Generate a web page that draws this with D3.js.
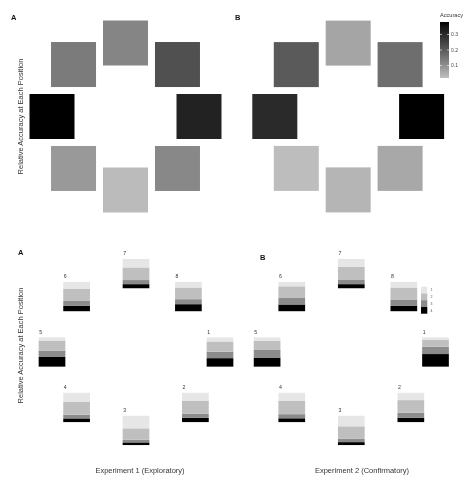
<!DOCTYPE html>
<html><head><meta charset="utf-8">
<script src="https://cdn.jsdelivr.net/npm/d3@7"></script>
<style>body{margin:0;background:#fff}svg{display:block;font-family:"Liberation Sans",Arial,sans-serif;will-change:transform}text{fill-opacity:0.99}</style>
</head><body><svg id="c" width="474" height="482"></svg>
<script>
// ---------- data ----------
const positions = [1, 2, 3, 4, 5, 6, 7, 8];
const accuracyA = [0.318, 0.116, 0.027, 0.086, 0.38, 0.140, 0.122, 0.222];
const accuracyB = [0.38, 0.060, 0.037, 0.024, 0.300, 0.202, 0.065, 0.164];
const accuracyTicks = [0.1, 0.2, 0.3];
const responseLevels = ["1", "2", "3", "4"];
// proportion of each response level (1..4) at each position
const exp1Props = [
  [0.14, 0.35, 0.22, 0.29],
  [0.28, 0.43, 0.14, 0.15],
  [0.43, 0.39, 0.09, 0.09],
  [0.31, 0.44, 0.125, 0.125],
  [0.11, 0.34, 0.22, 0.33],
  [0.23, 0.42, 0.16, 0.19],
  [0.29, 0.43, 0.14, 0.14],
  [0.19, 0.40, 0.17, 0.24]
];
const exp2Props = [
  [0.08, 0.24, 0.25, 0.43],
  [0.25, 0.43, 0.17, 0.15],
  [0.36, 0.43, 0.11, 0.10],
  [0.28, 0.45, 0.14, 0.13],
  [0.12, 0.31, 0.26, 0.31],
  [0.15, 0.40, 0.22, 0.23],
  [0.27, 0.43, 0.16, 0.14],
  [0.19, 0.41, 0.22, 0.18]
];
const yTitle = "Relative Accuracy at Each Position";
const xTitles = ["Experiment 1 (Exploratory)", "Experiment 2 (Confirmatory)"];

// ---------- layout ----------
const svg = d3.select("#c");
const fillScale = d3.scaleLinear().domain([0.02, 0.38]).range(["#bfbfbf", "#000000"]).interpolate(d3.interpolateLab).clamp(true);
const levelColor = d3.scaleOrdinal().domain(responseLevels).range(["#e6e6e6", "#bfbfbf", "#8b8b8b", "#000000"]);
const angle = p => (p - 1) * Math.PI / 4;

// ---- top: squares ----
const sq = 45;
function squares(cx, cy, r, vals) {
  const g = svg.append("g");
  g.selectAll("rect").data(positions).join("rect")
    .attr("x", p => cx + r * Math.cos(angle(p)) - sq / 2)
    .attr("y", p => cy + r * Math.sin(angle(p)) - sq / 2)
    .attr("width", sq).attr("height", sq)
    .attr("fill", (p, i) => fillScale(vals[i]));
}
squares(125.5, 116.5, 73.5, accuracyA);
squares(348.2, 116.5, 73.4, accuracyB);

svg.append("text").attr("x", 11).attr("y", 20).attr("font-size", 7.5).attr("font-weight", "bold").attr("fill", "#111").text("A");
svg.append("text").attr("x", 235).attr("y", 20).attr("font-size", 7.5).attr("font-weight", "bold").attr("fill", "#111").text("B");
svg.append("text").attr("transform", "translate(22.5,116.5) rotate(-90)").attr("text-anchor", "middle")
  .attr("font-size", 7.5).attr("fill", "#333").text(yTitle);

// colorbar
const cbX = 440, cbW = 9, cbTop = 22, cbBot = 78;
const cbScale = d3.scaleLinear().domain(fillScale.domain()).range([cbBot, cbTop]);
const defs = svg.append("defs");
const grad = defs.append("linearGradient").attr("id", "cbg").attr("x1", 0).attr("y1", 1).attr("x2", 0).attr("y2", 0);
d3.range(0, 1.0001, 0.1).forEach(t => {
  const v = fillScale.domain()[0] + t * (fillScale.domain()[1] - fillScale.domain()[0]);
  grad.append("stop").attr("offset", t).attr("stop-color", fillScale(v));
});
svg.append("rect").attr("x", cbX).attr("y", cbTop).attr("width", cbW).attr("height", cbBot - cbTop).attr("fill", "url(#cbg)");
svg.append("text").attr("x", cbX).attr("y", 17).attr("font-size", 5.6).attr("fill", "#333").text("Accuracy");
const cbg = svg.append("g");
accuracyTicks.forEach(t => {
  const y = cbScale(t);
  cbg.append("line").attr("x1", cbX).attr("x2", cbX + 2).attr("y1", y).attr("y2", y).attr("stroke", "#fff").attr("stroke-width", 0.6);
  cbg.append("line").attr("x1", cbX + cbW - 2).attr("x2", cbX + cbW).attr("y1", y).attr("y2", y).attr("stroke", "#fff").attr("stroke-width", 0.6);
  cbg.append("text").attr("x", cbX + cbW + 2).attr("y", y + 1.8).attr("font-size", 5).attr("fill", "#444").text(t.toFixed(1));
});

// ---- bottom: stacked bars ----
const barW = 26.7, barH = 29.3;
const nudgeX = {8: -7};
const yBar = d3.scaleLinear().domain([0, 1]).range([barH, 0]);
const stackOrder = ["4", "3", "2", "1"];
function stackedPanel(cx, cy, rx, ry, props) {
  const g = svg.append("g");
  positions.forEach((p, i) => {
    const x0 = cx + rx * Math.cos(angle(p)) - barW / 2 + (nudgeX[p] || 0);
    const y0 = cy + ry * Math.sin(angle(p)) - barH / 2;
    const row = {};
    responseLevels.forEach((l, j) => row[l] = props[i][j]);
    const series = d3.stack().keys(stackOrder)([row]);
    const bg = g.append("g").attr("transform", `translate(${x0},${y0})`);
    bg.selectAll("rect").data(series).join("rect")
      .attr("x", 0).attr("width", barW)
      .attr("y", s => yBar(s[0][1])).attr("height", s => yBar(s[0][0]) - yBar(s[0][1]))
      .attr("fill", s => levelColor(s.key));
    bg.append("text").attr("x", 0.5).attr("y", -3.5).attr("font-size", 5.2).attr("fill", "#333").text(p);
  });
}
stackedPanel(136, 352, 84, 78.4, exp1Props);
stackedPanel(351.3, 352, 84.2, 78.4, exp2Props);

svg.append("text").attr("x", 18).attr("y", 255).attr("font-size", 7.5).attr("font-weight", "bold").attr("fill", "#111").text("A");
svg.append("text").attr("x", 260).attr("y", 260).attr("font-size", 7.5).attr("font-weight", "bold").attr("fill", "#111").text("B");
svg.append("text").attr("transform", "translate(22.5,345.5) rotate(-90)").attr("text-anchor", "middle")
  .attr("font-size", 7.5).attr("fill", "#333").text(yTitle);
svg.append("text").attr("x", 140).attr("y", 472.5).attr("text-anchor", "middle").attr("font-size", 7.5).attr("fill", "#333").text(xTitles[0]);
svg.append("text").attr("x", 362).attr("y", 472.5).attr("text-anchor", "middle").attr("font-size", 7.5).attr("fill", "#333").text(xTitles[1]);

// legend for response levels
const lg = svg.append("g").attr("transform", "translate(421,286.7)");
const keyH = 6.75;
lg.selectAll("rect").data(responseLevels).join("rect")
  .attr("x", 0).attr("y", (d, i) => i * keyH).attr("width", 6.3).attr("height", keyH)
  .attr("fill", d => levelColor(d));
lg.selectAll("text").data(responseLevels).join("text")
  .attr("x", 9.5).attr("y", (d, i) => i * keyH + keyH / 2 + 1.2).attr("font-size", 3.5).attr("fill", "#555").text(d => d);
</script></body></html>
